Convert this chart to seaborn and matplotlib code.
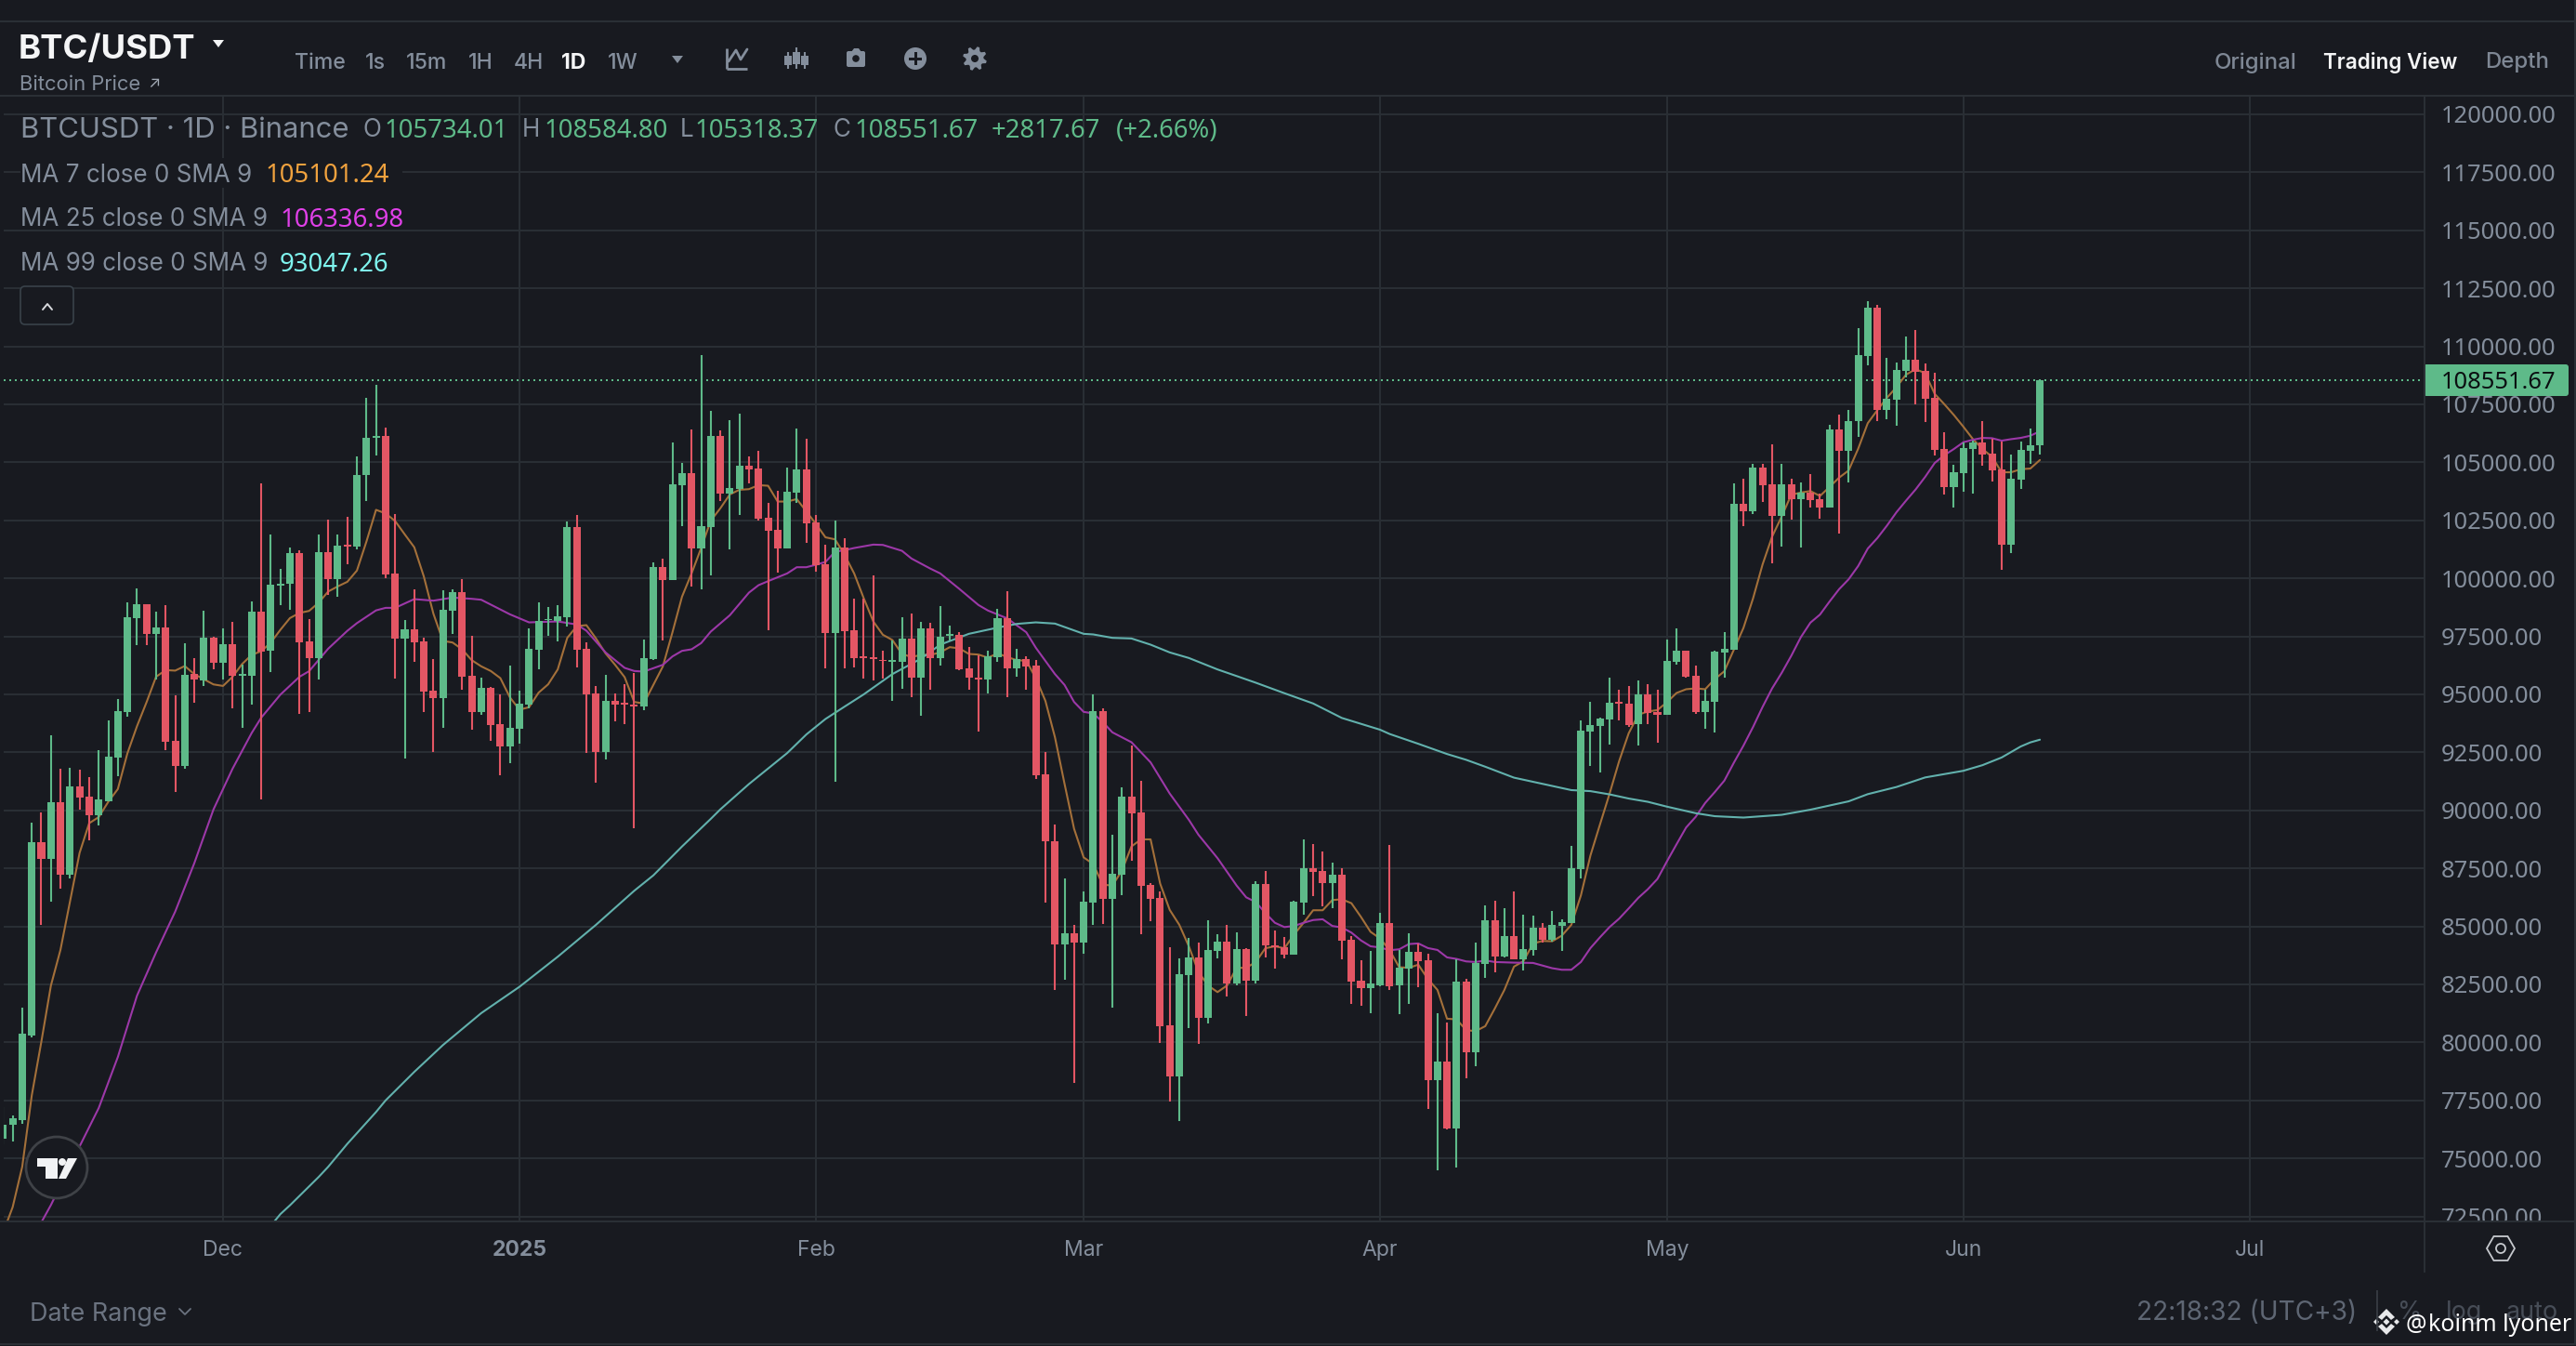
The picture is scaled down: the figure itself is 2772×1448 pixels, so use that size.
import numpy as np
import pandas as pd
import matplotlib
matplotlib.use("Agg")
import matplotlib.pyplot as plt
import matplotlib.dates as mdates
from matplotlib.patches import Rectangle, Circle, Polygon, FancyBboxPatch
import seaborn as sns

# ---------- data ----------
open_prices = [
    75832,76470,76646,80294,88610,87906,90348,87246,91030,90590,89776,90392,92262,94242,98290,98884,97608,97894,92988,91910,95870,95584,97432,
    96354,97168,95782,95804,98576,96882,99700,99764,101084,97278,96552,101128,99962,101436,101370,104450,106050,106144,100204,97410,97797,97277,95141,94834,98598,99399,95795,94233,95274,93712,92751,
    93512,94553,96916,98198,98158,98318,102203,96956,95034,92511,94713,94633,94553,94473,96516,100481,99920,104005,104526,101282,102203,106128,103645,103845,104846,104726,102603,102083,101282,103685,104686,
    102403,100601,97637,101322,97757,96636,96596,96500,96396,96396,97397,95715,97837,96556,97544,97557,96115,95741,95634,96596,98278,96115,96516,96235,91536,88650,84227,84700,
    84311,86033,94288,86185,87232,90591,89916,86776,86219,80733,78522,82894,83653,81054,83940,84328,82522,84008,82657,86827,84193,84092,83771,86016,87502,87384,86877,87215,84413,82657,82336,
    82472,85139,82455,83164,83889,83545,78378,79179,76296,82624,79580,83385,85267,83705,84586,83585,83985,84947,84426,85027,85147,87470,93378,93619,93899,94660,94580,93699,94980,94219,
    94099,96422,96863,95821,94219,94660,96783,96943,103231,102910,104793,104072,102710,104072,103431,103711,103431,103070,106435,105514,106789,109592,111675,107270,107710,108952,109432,108952,107790,105587,103945,
    104546,105587,105868,105387,104706,101462,104266,105507,105734.01]
high_prices = [
    77195,76866,81481,89490,89930,93230,91778,91822,91756,91426,92592,93868,94814,98972,99566,98900,98576,98840,94946,97190,96552,98598,97500,
    97850,98114,96266,98994,104098,101898,100402,101326,101200,98246,101876,102514,101876,102668,105242,107800,108350,106518,102778,98202,99519,97437,96516,99479,99546,99960,97517,95715,95315,94994,96235,
    95154,97837,98959,98758,98839,102443,102723,97237,95354,95835,95034,95434,95915,97357,100681,100841,105847,104966,106408,109623,107209,106368,106809,107089,105247,105487,103244,103765,104766,106448,106008,
    102750,101442,102483,101722,99119,99119,100120,96876,97317,98318,98478,98118,98078,98798,97957,97677,97036,96676,96876,98678,99439,96956,96636,96476,92498,89375,87063,85071,
    86523,94980,94389,88953,90979,92802,91266,86877,86489,84092,83602,84514,84311,85274,84649,85071,84733,84050,86962,87400,84835,84531,86101,88734,88548,88244,87738,87500,84598,83535,83940,
    85577,88498,83974,84700,84244,83825,81262,80861,83585,82730,84306,85908,86108,85788,86509,85507,85467,85147,85667,85307,88471,93859,94660,93979,95741,95181,95341,95581,95421,95181,
    97383,97864,96903,96262,95181,96903,97704,104112,104312,104940,104940,105794,104940,104312,104139,104512,103671,106635,107076,107276,110794,111955,111795,109512,109312,110433,110714,109272,108872,106308,104907,
    105868,105948,106789,106001,105908,105347,105908,106469,108584.80]
low_prices = [
    75590,75745,76491,80206,85046,86080,86630,87070,90018,88698,89336,90392,91470,94044,97124,97124,95650,92592,90788,91778,94638,95364,96068,
    95650,94396,93560,94550,90458,95958,98840,98642,94154,94242,95628,99280,99214,100622,101238,103328,105308,100028,95694,92218,96395,94233,92511,93552,97597,95194,93472,94113,92991,91509,92030,
    92871,94393,96075,97517,97277,97917,96155,92471,91189,92190,93832,93712,89227,94313,96476,97317,99920,102243,99640,99519,100120,103324,101242,102723,104085,102483,97757,100240,101282,103244,101522,
    100280,96115,91229,96115,96155,95675,95594,95675,94713,95234,94874,94073,95194,96235,97317,96035,95194,93392,95034,96395,94874,95754,95194,91349,86033,82269,82708,78252,
    83822,85071,85105,81492,86337,87822,84649,85223,79956,77458,76597,80598,79923,80817,83636,81965,82455,81121,82522,83653,83164,83636,83771,85493,86303,85848,85780,83569,81644,81560,81239,
    82405,82269,81222,81661,82370,77137,74494,76256,74614,78458,78979,82784,83024,83665,83585,83104,83745,84306,84346,83945,85147,87069,91897,91616,92818,93859,93579,92778,93699,92898,
    94099,96302,95741,94139,93499,93338,95741,96943,102270,102790,103311,100668,101388,102550,101348,103070,102590,103070,101949,104152,106108,109192,106789,106869,106589,108671,107510,106749,105307,103625,103064,
    103745,103665,104866,104186,100381,101102,103865,104947,105318.37]
close_prices = [
    76470,76712,80382,88610,87906,90348,87246,91030,90546,89776,90458,92306,94264,98334,98884,97608,97894,92944,91910,95848,95628,97432,96354,
    97168,95804,95892,98576,96860,99720,99764,101084,97234,96552,101128,99962,101414,101370,104472,106056,106150,100160,97410,97806,97237,95114,94834,98638,99399,95755,94233,95274,93672,92751,93552,
    94593,96956,98158,98238,98358,102203,96916,94994,92511,94713,94553,94553,94473,96556,100481,99920,104045,104526,101282,102243,106128,103645,103885,104846,104686,102563,102043,101282,103725,104686,102363,
    100561,97637,101322,97717,96556,96556,96516,96436,96476,97397,95715,97837,96556,97477,97584,96075,95715,95648,96636,98278,96115,96516,96195,91509,88650,84227,84700,84311,
    86050,94288,86185,87265,90591,89865,86742,86185,80682,78522,82927,83653,81054,83974,84328,82522,84008,82657,86827,84193,84109,83771,86050,87502,87367,86877,87215,84379,82607,82336,82522,
    85139,82438,83214,83889,83484,78378,79179,76296,82624,79580,83425,85267,83705,84586,83585,84025,84947,84426,85067,85187,87510,93418,93659,93939,94620,94580,93659,94980,94179,94099,
    96462,96863,95781,94219,94700,96823,96983,103231,102910,104793,104032,102710,104072,103431,103711,103391,103070,106435,105514,106795,109632,111675,107270,107750,108992,109432,108912,107750,105547,103945,104586,
    105627,105868,105347,104666,101462,104306,105547,105748,108551.67]
ma7_values = [
    71800,72900,74640,77720,80030,82450,83990,86080,88170,89446,89710,90370,90920,92460,93626,94660,95760,96046,96024,96222,95870,95650,95430,
    95364,95760,96310,96706,96860,97234,97784,98290,98510,98598,98950,99434,99654,99852,100336,101590,102954,102800,102470,101898,101340,100080,98478,97303,97237,96943,96476,96209,96008,95701,94874,
    94340,94446,95074,95434,96075,97437,97944,97984,97410,96769,96275,95741,94673,94607,95408,96209,97677,99212,100214,101308,102483,103017,103618,103818,103845,104018,103992,103311,103311,103418,102884,
    102350,101770,101682,101015,100214,99146,98144,97570,97343,96743,96609,96703,96703,96809,97036,96983,96743,96716,96582,96769,96609,96476,96449,95700,94720,93150,91150,89207,
    87974,87687,86800,86759,87400,88447,88751,88751,86843,85712,85071,84143,83045,82455,82168,82455,83214,83214,83467,84058,84143,84058,84649,85155,85696,85696,86135,86169,86000,85409,84767,
    84480,83974,83240,83214,83350,82730,82263,81022,80995,80528,80488,80701,81462,82263,83265,83505,84266,84373,84359,84600,85067,86335,88060,89400,90722,92124,93325,94126,94259,94326,
    94660,95060,95221,95261,95221,95661,95995,96930,97864,99132,100601,101802,102670,103605,103698,103765,103550,103940,104340,104650,105590,106690,107250,107780,108244,108778,109018,108845,107950,107510,107043,
    106535,106001,105574,105240,104573,104573,104706,104733,105101.24]
ma25_dates = ["2024-11-11","2024-11-13","2024-11-16","2024-11-18","2024-11-20","2024-11-22","2024-11-24","2024-11-26","2024-11-28","2024-11-30",
    "2024-12-02","2024-12-04","2024-12-05","2024-12-07","2024-12-09","2024-12-10","2024-12-12","2024-12-14","2024-12-15","2024-12-17","2024-12-18","2024-12-19","2024-12-21","2024-12-23","2024-12-25","2024-12-27","2024-12-28","2024-12-31",
    "2025-01-02","2025-01-05","2025-01-07","2025-01-08","2025-01-10","2025-01-12","2025-01-13","2025-01-14","2025-01-16","2025-01-17","2025-01-18","2025-01-19","2025-01-20","2025-01-21","2025-01-23","2025-01-25","2025-01-26","2025-01-27","2025-01-29","2025-01-30","2025-01-31",
    "2025-02-01","2025-02-02","2025-02-03","2025-02-04","2025-02-05","2025-02-07","2025-02-08","2025-02-10","2025-02-11","2025-02-13","2025-02-14","2025-02-16","2025-02-18","2025-02-19","2025-02-21","2025-02-23","2025-02-24","2025-02-26","2025-02-27","2025-02-28",
    "2025-03-01","2025-03-02","2025-03-03","2025-03-04","2025-03-06","2025-03-08","2025-03-10","2025-03-12","2025-03-13","2025-03-15","2025-03-17","2025-03-18","2025-03-19","2025-03-20","2025-03-21","2025-03-22","2025-03-23","2025-03-24","2025-03-25","2025-03-26","2025-03-27","2025-03-28","2025-03-29","2025-03-30","2025-03-31",
    "2025-04-01","2025-04-02","2025-04-03","2025-04-04","2025-04-05","2025-04-06","2025-04-07","2025-04-08","2025-04-09","2025-04-10","2025-04-11","2025-04-12","2025-04-13","2025-04-15","2025-04-17","2025-04-19","2025-04-20","2025-04-21","2025-04-22","2025-04-23","2025-04-24","2025-04-25","2025-04-26","2025-04-27","2025-04-28","2025-04-29","2025-04-30",
    "2025-05-01","2025-05-02","2025-05-03","2025-05-04","2025-05-05","2025-05-06","2025-05-07","2025-05-08","2025-05-09","2025-05-10","2025-05-11","2025-05-12","2025-05-13","2025-05-14","2025-05-15","2025-05-16","2025-05-17","2025-05-18","2025-05-19","2025-05-20","2025-05-21","2025-05-22","2025-05-23","2025-05-24","2025-05-25","2025-05-26","2025-05-27","2025-05-28","2025-05-29","2025-05-30","2025-05-31",
    "2025-06-01","2025-06-02","2025-06-03","2025-06-04","2025-06-05","2025-06-06","2025-06-07","2025-06-08","2025-06-09"]
ma25_values = [71500,72990,75520,77170,79370,82010,83880,85640,87730,90040,
    91800,93340,94000,94990,95760,96000,96970,97740,98070,98620,98730,98730,99106,99039,99172,99119,99079,98451,
    98104,98144,98011,97744,96809,96142,96008,95982,96275,96636,96876,96943,97210,97704,98411,99386,99706,99880,100214,100481,100481,
    100587,100708,101148,101215,101308,101455,101442,101188,100854,100414,100214,99546,98852,98612,98278,97677,97010,95875,95408,94673,
    94246,94180,93806,93365,92938,92070,90726,89595,88953,87941,86759,86253,86050,85577,85155,84970,85020,85155,85274,85307,85020,84953,84733,84396,84143,
    84092,83974,84012,84239,84266,84066,83985,83665,83598,83491,83465,83532,83465,83438,83425,83198,83131,83131,83465,84066,84533,84973,85334,85774,86228,86602,87043,
    87804,88538,89260,89720,90321,90789,91282,92057,92791,93592,94460,95261,95928,96663,97464,98091,98438,98999,99533,99960,100534,101285,101736,102270,102850,103350,103830,104373,104973,105307,105574,
    105868,105975,106055,106041,105935,106001,106055,106148,106336.98]
ma99_dates = ["2024-12-06","2024-12-07","2024-12-08","2024-12-11","2024-12-12","2024-12-14","2024-12-17","2024-12-18","2024-12-21","2024-12-24","2024-12-28",
    "2025-01-01","2025-01-05","2025-01-09","2025-01-13","2025-01-15","2025-01-18","2025-01-21","2025-01-22","2025-01-25","2025-01-29","2025-01-31",
    "2025-02-02","2025-02-04","2025-02-06","2025-02-09","2025-02-12","2025-02-14","2025-02-17","2025-02-20","2025-02-22","2025-02-24","2025-02-26",
    "2025-03-01","2025-03-02","2025-03-04","2025-03-06","2025-03-08","2025-03-10","2025-03-12","2025-03-15","2025-03-17","2025-03-19","2025-03-22","2025-03-25","2025-03-28",
    "2025-04-01","2025-04-02","2025-04-05","2025-04-08","2025-04-10","2025-04-12","2025-04-15","2025-04-18","2025-04-21","2025-04-23","2025-04-25","2025-04-27","2025-04-29",
    "2025-05-01","2025-05-04","2025-05-06","2025-05-09","2025-05-13","2025-05-16","2025-05-20","2025-05-22","2025-05-25","2025-05-28",
    "2025-06-01","2025-06-03","2025-06-05","2025-06-07","2025-06-08","2025-06-09"]
ma99_values = [72100,72600,72980,74200,74640,75630,77000,77500,78730,79887,81262,
    82397,83692,85067,86535,87200,88444,89632,90041,91136,92471,93272,
    93939,94473,95000,95875,96543,97143,97610,97877,98038,98104,98051,
    97610,97584,97437,97410,97143,96809,96569,96075,95790,95503,95050,94608,93984,
    93477,93293,92870,92430,92180,91882,91411,91143,90874,90830,90690,90511,90370,
    90161,89880,89750,89691,89810,90030,90390,90700,91008,91420,
    91707,91950,92280,92755,92930,93047.26]
price_ticks = list(range(72500, 120001, 2500))
month_ticks = ["2024-12-01","2025-01-01","2025-02-01","2025-03-01","2025-04-01","2025-05-01","2025-06-01","2025-07-01"]
month_labels = ["Dec","2025","Feb","Mar","Apr","May","Jun","Jul"]
last_price = 108551.67

# ---------- style ----------
BG, GRID, RULE = "#181a20", "#2a2f35", "#2b3036"
GREEN, RED = "#5eba89", "#e35664"
MUTED, DIM = "#848e9c", "#5e6673"
NUM = ["Noto Sans", "DejaVu Sans"]
W, H = 2772, 1448
sns.set_theme(style="dark", rc={"axes.facecolor": BG, "figure.facecolor": BG})
plt.rcParams["font.family"] = ["Inter", "DejaVu Sans"]

candles = pd.DataFrame({"date": pd.date_range("2024-11-08", "2025-06-09"),
                        "open": open_prices, "high": high_prices, "low": low_prices,
                        "close": close_prices, "ma7": ma7_values})
ma25 = pd.DataFrame({"date": pd.to_datetime(ma25_dates), "value": ma25_values})
ma99 = pd.DataFrame({"date": pd.to_datetime(ma99_dates), "value": ma99_values})

fig = plt.figure(figsize=(W / 100, H / 100), dpi=100, facecolor=BG)
L, R, T_, B = 4, 2609, 103, 1314
ax = fig.add_axes([L / W, 1 - B / H, (R - L) / W, (B - T_) / H], facecolor=BG)

# ---------- lines (behind the candles) ----------
sns.lineplot(data=candles, x="date", y="ma7", ax=ax, color="#a4703a", lw=1.5, zorder=2, estimator=None, legend=False)
sns.lineplot(data=ma25, x="date", y="value", ax=ax, color="#9c38a8", lw=1.5, zorder=2, estimator=None, legend=False)
sns.lineplot(data=ma99, x="date", y="value", ax=ax, color="#62b1ad", lw=1.5, zorder=2, estimator=None, legend=False)

# ---------- candles ----------
up = candles["close"] >= candles["open"]
colors = np.where(up, GREEN, RED)
xnum = mdates.date2num(candles["date"])
ax.vlines(xnum, candles["low"], candles["high"], colors=colors, lw=1.5, zorder=3)
body_low = candles[["open", "close"]].min(axis=1)
body_h = (candles["close"] - candles["open"]).abs().clip(lower=45)
ax.bar(xnum, body_h, bottom=body_low, width=0.78, color=colors, lw=0, zorder=3)

# ---------- axes ----------
px_day, dec1 = 10.29, mdates.date2num(pd.Timestamp("2024-12-01"))
ax.set_xlim(dec1 + (L - 240) / px_day, dec1 + (R - 240) / px_day)
price_at = lambda y: 120000 - (y - 123) / 0.02496
ax.set_ylim(price_at(B), price_at(T_))
ax.axhline(last_price, color=GREEN, lw=1.44, ls=(0, (1, 2)), zorder=1.5)
ax.yaxis.tick_right()
ax.set_yticks(price_ticks)
ax.set_yticklabels([f"{p:.2f}" for p in price_ticks], family=NUM)
ax.set_xticks(mdates.date2num(pd.to_datetime(month_ticks)))
ax.set_xticklabels(month_labels)
ax.tick_params(axis="y", length=0, pad=13, labelsize=25.6 * .72, labelcolor=MUTED)
ax.tick_params(axis="x", length=0, pad=14.5, labelsize=23 * .72, labelcolor=MUTED)
ax.get_xticklabels()[1].set_fontweight("bold")
ax.grid(True, color=GRID, lw=1.4, zorder=0)
ax.set_axisbelow(True)
ax.set_xlabel(""); ax.set_ylabel("")
for s in ax.spines.values():
    s.set_visible(False)

# ---------- interface chrome drawn in pixel coordinates ----------
ui = fig.add_axes([0, 0, 1, 1], facecolor="none", zorder=10)
ui.set_xlim(0, W); ui.set_ylim(H, 0); ui.axis("off")

def tx(x, y, s, size, color=MUTED, weight="normal", ha="left", **kw):
    return ui.text(x, y, s, fontsize=size * .72, color=color, fontweight=weight, ha=ha, va="center_baseline", **kw)

def line(x0, y0, x1, y1, color=RULE, lw=1.4):
    ui.plot([x0, x1], [y0, y1], color=color, lw=lw, solid_capstyle="butt")

def poly(pts, color, **kw):
    ui.add_patch(Polygon(pts, closed=True, facecolor=color, edgecolor="none", **kw))

ui.add_patch(Rectangle((2610, 1315), 162, 30, facecolor=BG, edgecolor="none"))
ui.add_patch(Rectangle((22, 170), 411, 32, facecolor=BG, edgecolor="none"))
line(0, 23, W, 23); line(0, 103, W, 103); line(0, 1314, W, 1314)
line(R, 103, R, 1369); line(0, 1446, W, 1446); line(2771, 0, 2771, 1446)

# header
tx(20, 50, "BTC/USDT", 36.5, "#f4f5f6", "bold")
poly([(229, 43), (241, 43), (235, 51)], "#f4f5f6")
tx(21, 89, "Bitcoin Price", 22)
tx(159, 88, "↗", 17, "#a3abb6")
for x, s in [(317, "Time"), (393, "1s"), (437, "15m"), (504, "1H"), (553, "4H"), (654, "1W")]:
    tx(x, 65, s, 23, MUTED, "medium")
tx(604, 65, "1D", 23, "#f4f5f6", "bold")
poly([(723, 60), (735, 60), (729, 68)], MUTED)
tx(2383, 65, "Original", 24, "#7e8794", "medium")
tx(2500, 65, "Trading View", 22.5, "#f4f5f6", "semibold")
tx(2674, 65, "Depth", 24, "#7e8794", "medium")

# toolbar icons
line(782, 52, 782, 74, MUTED, 2); line(782, 74, 804, 74, MUTED, 2)
ui.plot([784, 792, 797, 804], [66, 54, 64, 53], color=MUTED, lw=2)
for x, y0, y1, b0, b1 in [(848, 56, 74, 60, 70), (857, 51, 74, 56, 69), (866, 56, 74, 60, 70)]:
    line(x, y0, x, y1, MUTED, 1.5)
    ui.add_patch(Rectangle((x - 4, b0), 8, b1 - b0, facecolor=MUTED, edgecolor="none"))
ui.add_patch(FancyBboxPatch((912, 56), 18, 15, boxstyle="round,pad=1,rounding_size=2", facecolor=MUTED, edgecolor="none"))
poly([(916, 56), (919, 52), (924, 52), (927, 56)], MUTED)
ui.add_patch(Circle((921, 63), 3.8, facecolor=BG, edgecolor="none"))
ui.add_patch(Circle((985, 63), 12, facecolor=MUTED, edgecolor="none"))
ui.add_patch(Rectangle((978, 61.5), 14, 3, facecolor=BG, edgecolor="none"))
ui.add_patch(Rectangle((983.5, 56), 3, 14, facecolor=BG, edgecolor="none"))
ang = np.linspace(0, 2 * np.pi, 33)[:-1]
rad = np.where(np.arange(32) % 4 < 2, 13, 9.5)
poly(np.c_[1049 + rad * np.cos(ang + .2), 63 + rad * np.sin(ang + .2)], MUTED)
ui.add_patch(Circle((1049, 63), 4, facecolor=BG, edgecolor="none"))

# legend
tx(22, 137, "BTCUSDT · 1D · Binance", 31)
for x, s, c in [(391, "O", MUTED), (562, "H", MUTED), (732, "L", MUTED), (897, "C", MUTED)]:
    tx(x, 137, s, 26, c)
for x, s in [(413, "105734.01"), (585, "108584.80"), (748, "105318.37"), (920, "108551.67"),
             (1067, "+2817.67"), (1201, "(+2.66%)")]:
    tx(x, 137, s, 27.5, GREEN, family=NUM)
for y, name, xv, val, c in [(186, "MA 7 close 0 SMA 9", 286, "105101.24", "#f0a23e"),
                            (233, "MA 25 close 0 SMA 9", 302, "106336.98", "#e040e8"),
                            (281, "MA 99 close 0 SMA 9", 301, "93047.26", "#7ff5ef")]:
    tx(22, y, name, 26); tx(xv, y, val, 27.5, c, family=NUM)
ui.add_patch(FancyBboxPatch((25, 311), 51, 35, boxstyle="round,pad=3,rounding_size=5", facecolor=BG, edgecolor="#39424a", lw=1.2))
ui.plot([46, 51, 56], [333, 327, 333], color="#d8dade", lw=1.4)

# last price tag
ui.add_patch(FancyBboxPatch((2610, 394), 152, 30, boxstyle="round,pad=2,rounding_size=3", facecolor=GREEN, edgecolor="none"))
tx(2627, 409, "108551.67", 25.6, "#0b0e11", family=NUM)

# TradingView badge
ui.add_patch(Circle((61, 1256), 33, facecolor=BG, edgecolor="#3f4247", lw=2))
poly([(40, 1246), (62, 1246), (62, 1268), (49, 1268), (49, 1255), (40, 1255)], "#f1f2f4")
ui.add_patch(Circle((67, 1250), 4, facecolor="#f1f2f4", edgecolor="none"))
poly([(73, 1246), (83, 1246), (71, 1268), (63, 1268)], "#f1f2f4")

# footer
tx(32, 1411, "Date Range", 27, "#6b7380")
ui.plot([193, 199, 205], [1408, 1414, 1408], color="#6b7380", lw=1.3)
tx(2299, 1410, "22:18:32 (UTC+3)", 28, DIM)
line(2558, 1388, 2558, 1432, "#3a3f46", 1.2)
tx(2580, 1409, "%", 27, "#474d57"); tx(2632, 1409, "log", 27, "#474d57"); tx(2697, 1409, "auto", 27, "#474d57")
hex_a = np.deg2rad(np.arange(0, 360, 60))
ui.add_patch(Polygon(np.c_[2691 + 15 * np.cos(hex_a), 1343 + 15 * np.sin(hex_a)], closed=True, facecolor="none", edgecolor="#c6c9ce", lw=1.3))
ui.add_patch(Circle((2691, 1343), 5, facecolor="none", edgecolor="#c6c9ce", lw=1.3))

# watermark
cx, cy = 2568, 1422
chev = np.array([(0, -14), (9, -5), (5, -2), (0, -7), (-5, -2), (-9, -5)], float)
poly(chev + (cx, cy), "#e7e8ea")
poly(chev * (1, -1) + (cx, cy), "#e7e8ea")
for dx, r in [(-11, 3), (11, 3), (0, 3.5)]:
    poly([(cx + dx - r, cy), (cx + dx, cy - r), (cx + dx + r, cy), (cx + dx, cy + r)], "#e7e8ea")
tx(2589, 1423, "@", 25, "#ffffff", family=NUM)
tx(2613, 1423, "koinm lyoner", 25, "#ffffff", family=NUM)

fig.savefig("out.png", dpi=100, facecolor=BG)
